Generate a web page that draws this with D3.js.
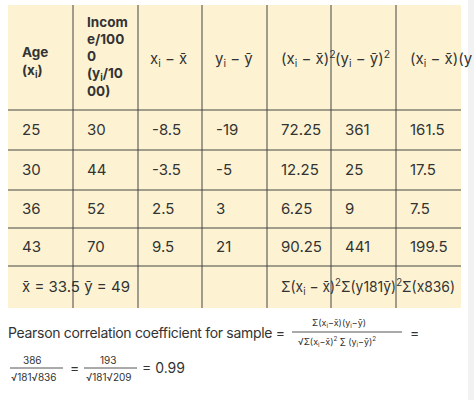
<!DOCTYPE html><html><head><meta charset="utf-8"><script src="https://cdn.jsdelivr.net/npm/d3@7"></script>
<style>body{margin:0;background:#fff}text{font-family:Inter,"Noto Sans",sans-serif;fill:#333}</style></head><body><svg id="c" width="474" height="400"></svg>
<script>
const ages=[25,30,36,43];
const incomes=[30,44,52,70];
const dx=["-8.5","-3.5","2.5","9.5"];
const dy=["-19","-5","3","21"];
const dx2=["72.25","12.25","6.25","90.25"];
const dy2=["361","25","9","441"];
const dxy=["161.5","17.5","7.5","199.5"];
const colEdges=[8,73,138,202,267,331,396,461];
const rowEdges=[5,110,150,190,228,266,308];
const svg=d3.select("#c");
svg.append("rect").attr("x",8).attr("y",5).attr("width",453).attr("height",303).attr("fill","#fdf3d3");
svg.append("rect").attr("x",468).attr("y",0).attr("width",6).attr("height",400).attr("fill","#f2f2f2");
colEdges.slice(1,-1).forEach(x=>svg.append("line").attr("x1",x).attr("x2",x).attr("y1",5).attr("y2",308).attr("stroke","#444").attr("stroke-width",1));
rowEdges.slice(1,-1).forEach(y=>svg.append("line").attr("x1",8).attr("x2",461).attr("y1",y).attr("y2",y).attr("stroke","#444"));
const fs=15;
function t(x,y,parts,size,weight){const e=svg.append("text").attr("x",x).attr("y",y).attr("font-size",size||fs).attr("font-weight",weight||400);
 parts.forEach(p=>{const s=e.append("tspan").text(p[0]);if(p[1]==="sub"){s.attr("baseline-shift",-(size||fs)*0.2).attr("font-size",(size||fs)*0.7)}if(p[1]==="sup"){s.attr("baseline-shift","super").attr("font-size",(size||fs)*0.7)}});return e;}
t(22,57,[["Age"]],13.5,700);t(22,75,[["(x"],["i","sub"],[")"]],13.5,700);
["Incom","e/100","0"].forEach((s,i)=>t(87,27+i*17,[[s]],13.5,700));
t(87,78,[["(y"],["i","sub"],["/10"]],13.5,700);t(87,96,[["00)"]],13.5,700);
t(150,64,[["x"],["i","sub"],[" − x̄"]]);
t(215,64,[["y"],["i","sub"],[" − ȳ"]]);
t(281,64,[["(x"],["i","sub"],[" − x̄)"],["2","sup"]]);
t(335,64,[["(y"],["i","sub"],[" − ȳ)"],["2","sup"]]);
t(410,64,[["(x"],["i","sub"],[" − x̄)(y"]]);
const cols=[ages,incomes,dx,dy,dx2,dy2,dxy];
const ys=d3.range(4).map(i=>(rowEdges[i+1]+rowEdges[i+2])/2+5);
cols.forEach((c,j)=>c.forEach((v,i)=>t(colEdges[j]+14,ys[i],[[String(v)]])));
const yl=(rowEdges[5]+rowEdges[6])/2+5;
t(22,yl,[["x̄ = 33.5 ȳ = 49"]]);
t(281,yl,[["Σ(x"],["i","sub"],[" − x̄)"],["2","sup"],["Σ(y181ȳ)"],["2","sup"],["Σ(x836)"]]).attr("textLength",174).attr("lengthAdjust","spacingAndGlyphs");
t(8,338,[["Pearson correlation coefficient for sample ="]],14).attr("textLength",277);
svg.append("line").attr("x1",292).attr("x2",402).attr("y1",332).attr("y2",332).attr("stroke","#555");
t(312,326,[["Σ(x"],["i","sub"],["−x̄)(y"],["i","sub"],["−ȳ)"]],9);
t(298,345,[["√Σ(x"],["i","sub"],["−x̄)"],["2","sup"],[" ∑ (y"],["i","sub"],["−ȳ)"],["2","sup"]],9);
t(410,338,[["="]],14);
svg.append("line").attr("x1",10).attr("x2",63).attr("y1",368).attr("y2",368).attr("stroke","#555");
t(23,364,[["386"]],10);t(11,381,[["√181√836"]],10);
t(70,373,[["="]],14);
svg.append("line").attr("x1",84).attr("x2",137).attr("y1",368).attr("y2",368).attr("stroke","#555");
t(100,364,[["193"]],10);t(86,381,[["√181√209"]],10);
t(142,373,[["= 0.99"]],14);
</script></body></html>
